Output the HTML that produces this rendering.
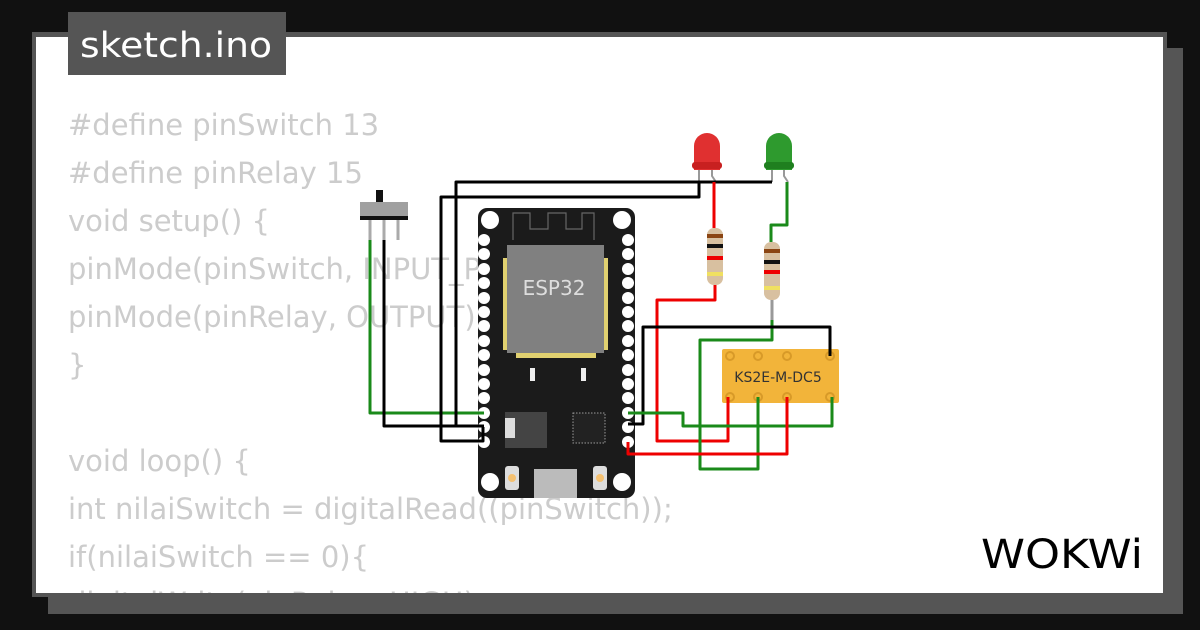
<!DOCTYPE html>
<html><head><meta charset="utf-8"><style>
html,body{margin:0;padding:0;background:#111;width:1200px;height:630px;overflow:hidden}
svg{display:block}
</style></head><body>
<svg width="1200" height="630" viewBox="0 0 1200 630" xmlns="http://www.w3.org/2000/svg">
<rect width="1200" height="630" fill="#111"/>
<rect x="48" y="48" width="1135" height="566" fill="#555"/>
<rect x="32" y="32" width="1135" height="565" fill="#555"/>
<rect x="36" y="37" width="1127" height="556" fill="#fff"/>
<rect x="68" y="12" width="218" height="63" fill="#555"/>
<text x="80" y="57" font-family="DejaVu Sans, sans-serif" font-size="35" fill="#fff" textLength="192" lengthAdjust="spacingAndGlyphs">sketch.ino</text>
<clipPath id="cp"><rect x="36" y="37" width="1127" height="556"/></clipPath>
<g clip-path="url(#cp)" font-family="DejaVu Sans, sans-serif" font-size="29" fill="#ccc">
<text x="68" y="135">#define pinSwitch 13</text>
<text x="68" y="183">#define pinRelay 15</text>
<text x="68" y="231">void setup() {</text>
<text x="68" y="279">pinMode(pinSwitch, INPUT_PULLUP);</text>
<text x="68" y="327">pinMode(pinRelay, OUTPUT);</text>
<text x="68" y="375">}</text>
<text x="68" y="471">void loop() {</text>
<text x="68" y="519">int nilaiSwitch = digitalRead((pinSwitch));</text>
<text x="68" y="567">if(nilaiSwitch == 0){</text>
<text x="68" y="613">digitalWrite(pinRelay, HIGH);</text>
</g>
<!-- switch -->
<rect x="376" y="190" width="7" height="14" fill="#111"/>
<rect x="360" y="202" width="48" height="16" fill="#a0a0a0"/>
<rect x="360" y="216" width="48" height="4" fill="#111"/>
<g stroke="#aaa" stroke-width="3"><line x1="370" y1="220" x2="370" y2="240"/><line x1="384" y1="220" x2="384" y2="240"/><line x1="398" y1="220" x2="398" y2="240"/></g>
<!-- ESP32 board -->
<rect x="478" y="208" width="157" height="290" rx="9" fill="#1b1b1b"/>
<g fill="#fff"><circle cx="490" cy="220" r="9"/><circle cx="622" cy="220" r="9"/><circle cx="490" cy="482" r="9"/><circle cx="622" cy="482" r="9"/></g>
<path d="M513 240 V213 H530 V229 H548 V213 H566 V229 H582 V213 H594 V240" fill="none" stroke="#666" stroke-width="1.2"/>
<g fill="#e0d070">
<rect x="503" y="258" width="5" height="92"/><rect x="603" y="258" width="5" height="92"/>
<rect x="516" y="353" width="80" height="5"/>
</g>
<rect x="507" y="245" width="97" height="108" fill="#808080"/>
<text x="554" y="295" font-family="DejaVu Sans, sans-serif" font-size="20" fill="#ddd" text-anchor="middle">ESP32</text>
<rect x="530" y="368" width="5" height="13" fill="#eee"/><rect x="581" y="368" width="5" height="13" fill="#eee"/>
<g fill="#fff">
<circle cx="484" cy="240" r="6"/><circle cx="484" cy="254" r="6"/><circle cx="484" cy="269" r="6"/><circle cx="484" cy="283" r="6"/><circle cx="484" cy="298" r="6"/><circle cx="484" cy="312" r="6"/><circle cx="484" cy="326" r="6"/><circle cx="484" cy="341" r="6"/><circle cx="484" cy="355" r="6"/><circle cx="484" cy="370" r="6"/><circle cx="484" cy="384" r="6"/><circle cx="484" cy="398" r="6"/><circle cx="484" cy="413" r="6"/><circle cx="484" cy="427" r="6"/><circle cx="484" cy="442" r="6"/>
<circle cx="628" cy="240" r="6"/><circle cx="628" cy="254" r="6"/><circle cx="628" cy="269" r="6"/><circle cx="628" cy="283" r="6"/><circle cx="628" cy="298" r="6"/><circle cx="628" cy="312" r="6"/><circle cx="628" cy="326" r="6"/><circle cx="628" cy="341" r="6"/><circle cx="628" cy="355" r="6"/><circle cx="628" cy="370" r="6"/><circle cx="628" cy="384" r="6"/><circle cx="628" cy="398" r="6"/><circle cx="628" cy="413" r="6"/><circle cx="628" cy="427" r="6"/><circle cx="628" cy="442" r="6"/>
</g>
<rect x="505" y="412" width="42" height="36" fill="#444"/><rect x="505" y="418" width="10" height="20" fill="#ddd"/>
<rect x="573" y="413" width="32" height="30" fill="#222" stroke="#999" stroke-dasharray="1.5 1.5"/>
<rect x="534" y="469" width="43" height="29" fill="#bbb"/>
<rect x="505" y="466" width="14" height="24" rx="3" fill="#ddd"/><circle cx="512" cy="478" r="4" fill="#f4c070"/>
<rect x="593" y="466" width="14" height="24" rx="3" fill="#ddd"/><circle cx="600" cy="478" r="4" fill="#f4c070"/>
<!-- LEDs -->
<g stroke="#999" stroke-width="2" fill="none">
<path d="M699 168 V182"/><path d="M712 168 V176 L716 182"/>
<path d="M772 168 V182"/><path d="M784 168 V176 L788 182"/>
</g>
<path d="M694 170 V146 a13 13 0 0 1 26 0 V170 Z" fill="#e03030"/><rect x="692" y="162" width="30" height="7" rx="3" fill="#c82020"/>
<path d="M766 170 V146 a13 13 0 0 1 26 0 V170 Z" fill="#2e9a2e"/><rect x="764" y="162" width="30" height="7" rx="3" fill="#1f7f1f"/>
<!-- wires -->
<g fill="none" stroke-width="3" stroke-linejoin="round">
<path d="M370 240 V413 H484" stroke="#1a8a1a"/>
<path d="M384 240 V426 H484" stroke="#000"/>
<path d="M699 182 V197 H441 V441 H483 V427" stroke="#000"/>
<path d="M772 182 H456 V426 H484" stroke="#000"/>
<path d="M714 182 V228" stroke="#e00"/>
<path d="M787 182 V225 H771 V242" stroke="#1a8a1a"/>
<path d="M715 285 V300 H657 V441 H728 V397" stroke="#e00"/>
<path d="M772 300 V320" stroke="#999"/>
<path d="M772 320 V340 H700 V469 H758 V397" stroke="#1a8a1a"/>
<path d="M830 356 V327 H643 V424 H628" stroke="#000"/>
<path d="M628 413 H683 V426 H832 V397" stroke="#1a8a1a"/>
<path d="M628 442 V454 H787 V397" stroke="#e00"/>
</g>
<!-- resistors -->
<g>
<rect x="707" y="228" width="16" height="57" rx="7" fill="#d8c0a0"/>
<rect x="707" y="234" width="16" height="4" fill="#8b4513"/><rect x="707" y="244" width="16" height="4" fill="#111"/><rect x="707" y="256" width="16" height="4" fill="#e00"/><rect x="707" y="272" width="16" height="4" fill="#f0e060"/>
<rect x="764" y="242" width="16" height="58" rx="7" fill="#d8c0a0"/>
<rect x="764" y="249" width="16" height="4" fill="#8b4513"/><rect x="764" y="260" width="16" height="4" fill="#111"/><rect x="764" y="270" width="16" height="4" fill="#e00"/><rect x="764" y="286" width="16" height="4" fill="#f0e060"/>
</g>
<!-- relay -->
<rect x="722" y="349" width="117" height="54" rx="2" fill="#f2b43a"/>
<g fill="none" stroke="#d89a28" stroke-width="2">
<circle cx="730" cy="356" r="4"/><circle cx="758" cy="356" r="4"/><circle cx="787" cy="356" r="4"/><circle cx="830" cy="356" r="4"/>
<circle cx="730" cy="397" r="4"/><circle cx="758" cy="397" r="4"/><circle cx="787" cy="397" r="4"/><circle cx="830" cy="397" r="4"/>
</g>
<text x="778" y="382" font-family="DejaVu Sans, sans-serif" font-size="14" fill="#333" text-anchor="middle">KS2E-M-DC5</text>
<g fill="none" stroke-width="3"><path d="M728 403 V397" stroke="#e00"/><path d="M758 403 V397" stroke="#1a8a1a"/><path d="M787 403 V397" stroke="#e00"/><path d="M832 403 V397" stroke="#1a8a1a"/><path d="M830 349 V356" stroke="#000"/></g>
<!-- logo -->
<text x="1062" y="568" font-family="DejaVu Sans, sans-serif" font-size="40" fill="#000" text-anchor="middle" textLength="162" lengthAdjust="spacingAndGlyphs">WOKWi</text>
</svg>
</body></html>
